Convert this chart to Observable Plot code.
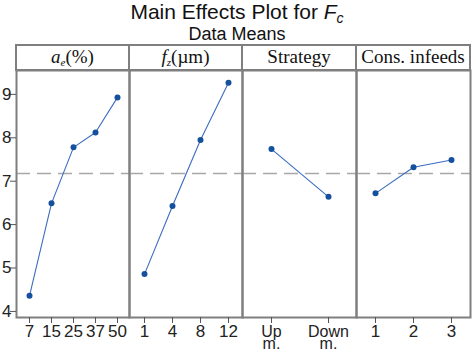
<!DOCTYPE html>
<html>
<head>
<meta charset="utf-8">
<script src="https://cdn.jsdelivr.net/npm/d3@7"></script>
<script src="https://cdn.jsdelivr.net/npm/@observablehq/plot@0.6"></script>
<style>
  html, body { margin: 0; padding: 0; background: white; }
  #chart { position: relative; width: 474px; height: 351px; overflow: hidden; background: white; }
  .title { position: absolute; left: 0; width: 474px; text-align: center; font-family: "Liberation Sans", Arial, sans-serif; color: #111; white-space: nowrap; }
  .hdr { position: absolute; top: 44px; height: 27px; box-sizing: border-box; border: 2px solid #7f7f7f; text-align: center; font-family: "Liberation Serif", "Times New Roman", serif; font-size: 19px; line-height: 22px; color: #111; white-space: nowrap; }
  .hdr sub { font-size: 11px; vertical-align: -3px; line-height: 0; }
  .panel { position: absolute; top: 69px; }
  .panel svg { overflow: visible; }
</style>
</head>
<body>
<div id="chart"></div>
<script>
// ---- data ----
const factorNames = ["ae", "fz", "Strategy", "Cons. infeeds"];
const aeLevels = ["7", "15", "25", "37", "50"];
const aeMeans = [4.36, 6.49, 7.78, 8.12, 8.93];
const fzLevels = ["1", "4", "8", "12"];
const fzMeans = [4.86, 6.43, 7.95, 9.27];
const strategyLevels = ["Up\nm.", "Down\nm."];
const strategyMeans = [7.74, 6.64];
const infeedLevels = ["1", "2", "3"];
const infeedMeans = [6.72, 7.32, 7.49];
const grandMean = 7.18;
const yTicks = [4, 5, 6, 7, 8, 9];

const chart = document.getElementById("chart");

// titles
const t1 = document.createElement("div");
t1.className = "title";
t1.style.top = "0px"; t1.style.fontSize = "21px"; t1.style.lineHeight = "24px";
t1.innerHTML = 'Main Effects Plot for <i>F</i><sub style="font-size:14px;vertical-align:-4px;line-height:0"><i>c</i></sub>';
chart.appendChild(t1);
const t2 = document.createElement("div");
t2.className = "title";
t2.style.top = "24px"; t2.style.fontSize = "18px"; t2.style.lineHeight = "20px";
t2.textContent = "Data Means";
chart.appendChild(t2);

// panel geometry (plot-area edges in px)
const edges = [16, 129, 242, 356, 470];
const headers = [
  '<i>a</i><sub><i>e</i></sub>(%)',
  '<i>f</i><sub><i>z</i></sub>(µm)',
  'Strategy',
  'Cons. infeeds'
];
headers.forEach((h, i) => {
  const d = document.createElement("div");
  d.className = "hdr";
  d.style.left = (edges[i] - 1) + "px";
  d.style.width = (edges[i + 1] - edges[i] + 2) + "px";
  d.innerHTML = h;
  chart.appendChild(d);
});

const panels = [
  [aeLevels, aeMeans, 17],
  [fzLevels, fzMeans, 17],
  [strategyLevels, strategyMeans, 16],
  [infeedLevels, infeedMeans, 17]
];

panels.forEach(([levels, means, fs], i) => {
  const data = levels.map((l, j) => ({level: l, mean: means[j]}));
  const first = i === 0;
  const ml = first ? edges[0] : 0;
  const width = edges[i + 1] - edges[i] + ml;
  const marks = [
    Plot.ruleY([grandMean], {stroke: "#a8a8a8", strokeWidth: 1.5, strokeDasharray: "14,7"}),
    Plot.frame({stroke: "#7f7f7f", strokeWidth: 2}),
    Plot.axisX({tickSize: 6, tickPadding: 4, fontSize: fs, lineHeight: 0.8, stroke: "#555", color: "#222", label: null}),
    Plot.line(data, {x: "level", y: "mean", stroke: "#3b6cc0", strokeWidth: 1.1}),
    Plot.dot(data, {x: "level", y: "mean", r: 3, fill: "#15509e", stroke: "none"})
  ];
  if (first) marks.push(Plot.axisY({ticks: yTicks, tickFormat: d => String(d), tickSize: 6, tickPadding: -1, fontSize: 17, stroke: "#555", color: "#222", label: null}));
  const yOpts = first ? {domain: [3.86, 9.55]} : {domain: [3.86, 9.55], axis: null};
  const p = Plot.plot({
    width,
    height: 282,
    marginTop: 1,
    marginBottom: 34,
    marginLeft: ml,
    marginRight: 0,
    style: {fontFamily: '"Liberation Sans", Arial, sans-serif', fontSize: "16px", color: "#222", background: "transparent", overflow: "visible"},
    x: {type: "point", domain: levels, padding: 0.5},
    y: yOpts,
    marks
  });
  const wrap = document.createElement("div");
  wrap.className = "panel";
  wrap.style.left = (edges[i] - ml) + "px";
  wrap.appendChild(p);
  chart.appendChild(wrap);
});
</script>
</body>
</html>
